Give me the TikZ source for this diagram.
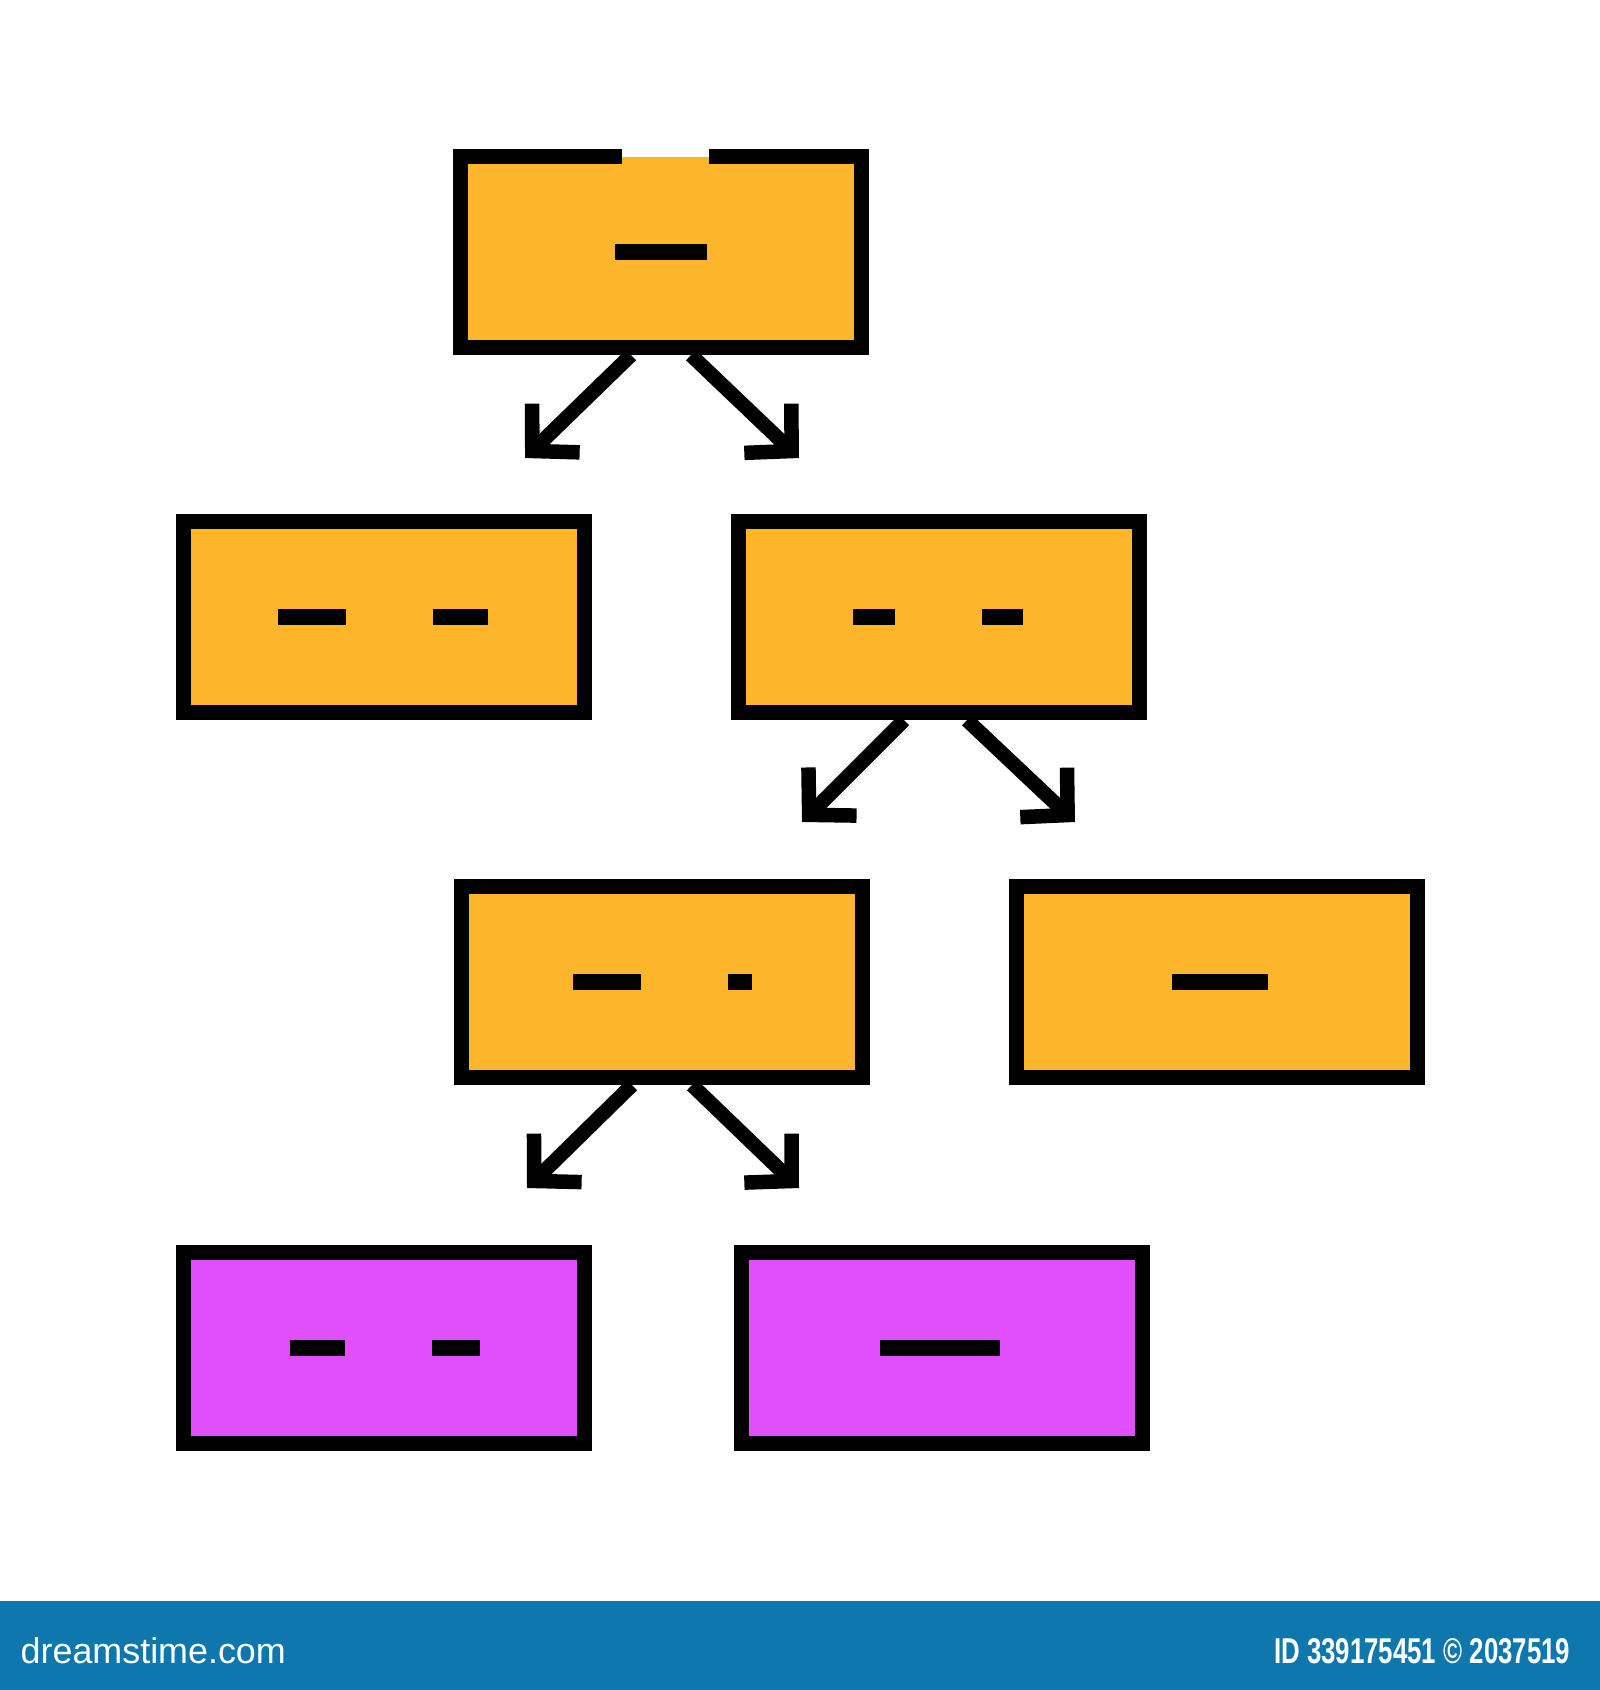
\documentclass[tikz,border=0pt]{standalone}
\usepackage{fontspec}
\newfontfamily\barfont{Liberation Sans}
\usetikzlibrary{arrows.meta}
\definecolor{boxorange}{HTML}{FDB62B}
\definecolor{boxpink}{HTML}{E04FF9}
\definecolor{barblue}{HTML}{0E77AE}

\begin{document}
\begin{tikzpicture}[x=0.01cm, y=-0.01cm,
        block/.style={draw, rectangle, line width=0.15cm, inner sep=0pt,
            minimum width=4.01cm, minimum height=1.91cm, fill=boxorange},
        leaf/.style={block, fill=boxpink},
        dashbar/.style={line width=0.155cm},
        link/.style={line width=0.145cm, miter limit=20,
            -{Straight Barb[length=0.33cm, width=0.68cm]}}]
        \useasboundingbox (0,0) rectangle (1600,1690);

        % Tree boxes
        \node[block] (root) at (661,252) {};
        \node[block] (midL) at (384,617) {};
        \node[block] (midR) at (939,617) {};
        \node[block] (lowL) at (662,982) {};
        \node[block] (lowR) at (1217,982) {};
        \node[leaf] (leafL) at (384,1348) {};
        \node[leaf] (leafR) at (942,1348) {};

        % Gap in the top edge of the root box
        \fill[white] (622,147) rectangle (709,157);
        \fill[boxorange] (622,157) rectangle (709,166);

        % Dashes inside the boxes
        \draw[dashbar] (615,252) -- (707,252);
        \draw[dashbar] (278,617) -- (346,617);
        \draw[dashbar] (433,617) -- (488,617);
        \draw[dashbar] (853,617) -- (895,617);
        \draw[dashbar] (982,617) -- (1023,617);
        \draw[dashbar] (573,982) -- (641,982);
        \draw[dashbar] (728,982) -- (752,982);
        \draw[dashbar] (1172,982) -- (1268,982);
        \draw[dashbar] (290,1348) -- (345,1348);
        \draw[dashbar] (432,1348) -- (480,1348);
        \draw[dashbar] (880,1348) -- (1000,1348);

        % Arrow ends
        \coordinate (rootL) at (525,458);
        \coordinate (rootR) at (799,458);
        \coordinate (midRL) at (802,822);
        \coordinate (midRR) at (1075,822);
        \coordinate (lowLL) at (527,1188);
        \coordinate (lowLR) at (799,1188);

        % Arrows
        \draw[link] ([xshift=-0.3cm]root.south) -- (rootL);
        \draw[link] ([xshift=0.3cm]root.south) -- (rootR);
        \draw[link] ([xshift=-0.35cm]midR.south) -- (midRL);
        \draw[link] ([xshift=0.28cm]midR.south) -- (midRR);
        \draw[link] ([xshift=-0.3cm]lowL.south) -- (lowLL);
        \draw[link] ([xshift=0.3cm]lowL.south) -- (lowLR);

        % Bottom bar
        \fill[barblue] (0,1601) rectangle (1600,1690);
        \node[text=white, anchor=base west, inner sep=0pt,
            font=\barfont\fontsize{10.2pt}{12pt}\selectfont] (brand) at (20,1663) {dreamstime.com};
        \node[text=white, anchor=base east, inner sep=0pt,
            font=\barfont\bfseries\fontsize{10.2pt}{12pt}\selectfont] (imgid) at (1571,1663)
            {\scalebox{0.72}[1]{ID 339175451 © 2037519}};
\end{tikzpicture}
\end{document}
